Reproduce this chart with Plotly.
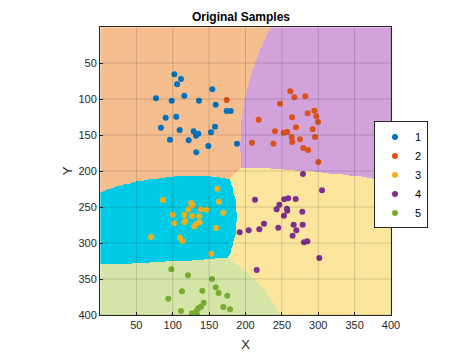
import numpy as np
import plotly.graph_objects as go

# ---- data ----
class_names = ["1", "2", "3", "4", "5"]
x1 = [102.2, 111.3, 105.9, 154.4, 115.9, 77.0, 98.5, 136.1, 159.0, 174.1, 179.6, 90.3, 104.9,
      83.8, 109.5, 128.7, 135.1, 132.0, 158.1, 152.6, 96.2, 121.9, 148.9, 188.3, 132.4]
y1 = [65.7, 72.2, 79.6, 86.6, 95.4, 99.0, 102.3, 102.3, 107.9, 116.7, 116.7, 126.0, 124.5,
      139.8, 143.0, 144.9, 148.1, 150.9, 138.4, 146.3, 156.5, 157.4, 165.3, 162.0, 174.0]
x2 = [174.1, 261.6, 267.1, 282.2, 247.4, 294.6, 285.4, 263.9, 297.3, 299.7, 218.1, 269.4, 292.3,
      240.5, 252.5, 257.5, 263.5, 295.5, 274.9, 264.3, 208.9, 238.3, 279.5, 286.0, 300.1]
y2 = [101.4, 89.4, 97.7, 96.3, 106.5, 116.2, 119.9, 125.5, 124.0, 131.9, 128.7, 139.4, 142.1,
      144.9, 146.8, 145.8, 152.8, 152.8, 156.0, 159.7, 160.7, 162.0, 168.0, 170.8, 187.5]
x3 = [161.3, 86.6, 163.6, 125.5, 127.4, 121.4, 138.8, 146.6, 169.5, 99.9, 115.9, 126.5, 136.5,
      117.3, 115.9, 137.0, 101.7, 132.9, 129.6, 159.5, 70.1, 110.0, 113.2, 153.0]
y3 = [224.5, 240.3, 242.6, 244.4, 247.7, 253.2, 253.2, 253.7, 257.9, 260.6, 260.6, 262.5, 262.9,
      269.0, 271.3, 271.3, 272.7, 273.2, 276.8, 279.2, 291.7, 292.6, 297.2, 314.8]
x4 = [279.0, 305.2, 213.1, 253.3, 258.8, 269.0, 246.5, 242.8, 257.0, 257.5, 278.1, 252.9, 225.4,
      266.2, 278.6, 245.1, 219.0, 204.4, 269.9, 192.0, 264.8, 280.4, 285.0, 301.5, 215.4]
y4 = [204.2, 226.9, 239.8, 239.4, 238.0, 238.9, 246.8, 253.2, 252.3, 255.1, 256.5, 262.0, 273.2,
      274.5, 274.5, 278.7, 281.0, 282.4, 282.4, 285.2, 289.8, 299.0, 297.7, 320.8, 337.5]
x5 = [98.0, 121.0, 154.0, 159.0, 140.7, 112.7, 163.1, 175.0, 93.9, 142.5, 138.8, 135.1, 169.5,
      178.7, 111.3, 132.9, 126.5, 133.7]
y5 = [336.6, 344.9, 350.0, 361.6, 366.2, 367.1, 369.4, 373.2, 377.3, 382.9, 388.4, 390.7, 388.9,
      392.1, 394.4, 394.0, 397.7, 400.4]

xs = [x1, x2, x3, x4, x5]
ys = [y1, y2, y3, y4, y5]

tick_vals = [50, 100, 150, 200, 250, 300, 350, 400]
point_colors = ["#0072BD", "#D95319", "#EDB120", "#7E2F8E", "#77AC30"]
region_colors = ["#F4BE8E", "#D3A2DB", "#00CBE6", "#FCE59C", "#D5E5A7"]

# ---- decision regions: Gaussian naive Bayes classifier fitted to the samples ----
gx = np.arange(1, 401, 1.0)
gy = np.arange(1, 401, 1.0)
GX, GY = np.meshgrid(gx, gy)
total = sum(len(c) for c in xs)
scores = []
for cx, cy in zip(xs, ys):
    cx = np.asarray(cx); cy = np.asarray(cy)
    mx, my = cx.mean(), cy.mean()
    sx, sy = cx.std(ddof=1), cy.std(ddof=1)
    s = (-0.5 * ((GX - mx) / sx) ** 2 - 0.5 * ((GY - my) / sy) ** 2
         - np.log(sx) - np.log(sy) + np.log(len(cx) / total))
    scores.append(s)
labels = np.argmax(np.array(scores), axis=0)

cs = []
n = len(region_colors)
for i, c in enumerate(region_colors):
    cs.append([i / n, c])
    cs.append([(i + 1) / n, c])

fig = go.Figure()
fig.add_trace(go.Heatmap(x=gx, y=gy, z=labels, zmin=-0.5, zmax=n - 0.5,
                         colorscale=cs, showscale=False, hoverinfo="skip"))
for name, cx, cy, col in zip(class_names, xs, ys, point_colors):
    fig.add_trace(go.Scatter(x=cx, y=cy, mode="markers", name=name,
                             marker=dict(color=col, size=6, line=dict(width=0))))

# grid lines drawn above the regions (as MATLAB does)
for v in tick_vals:
    fig.add_shape(type="line", xref="x", yref="y", x0=v, x1=v, y0=0, y1=400,
                  line=dict(color="rgba(0,0,0,0.15)", width=1), layer="above")
    fig.add_shape(type="line", xref="x", yref="y", x0=0, x1=400, y0=v, y1=v,
                  line=dict(color="rgba(0,0,0,0.15)", width=1), layer="above")

font_family = "Liberation Sans, Arial, Helvetica"
axis_common = dict(showgrid=False, zeroline=False, showline=True, mirror=True,
                   linecolor="#262626", linewidth=1, ticks="inside", ticklen=3,
                   tickcolor="#262626", tickvals=tick_vals, automargin=False,
                   tickfont=dict(family=font_family, size=11, color="#262626"))
fig.update_xaxes(range=[0, 400], title=dict(text="X", standoff=9,
                 font=dict(family=font_family, size=13, color="#262626")),
                 **axis_common)
fig.update_yaxes(range=[400, 0], title=dict(text="Y", standoff=2,
                 font=dict(family=font_family, size=13, color="#262626")),
                 **axis_common)

# the page body adds an 8px offset, so the figure is 466x347 with margins shifted by 8px
fig.update_layout(
    width=466, height=347,
    margin=dict(l=92, r=83, t=19, b=40, autoexpand=False),
    paper_bgcolor="white", plot_bgcolor="white",
    title=dict(text="<b>Original Samples</b>", x=0.5, xanchor="center", y=0.988,
               yanchor="top", font=dict(family=font_family, size=12, color="black")),
    legend=dict(x=0.9416, y=0.672, xanchor="left", yanchor="top",
                bgcolor="white", bordercolor="#262626", borderwidth=1,
                font=dict(family=font_family, size=11, color="black"),
                itemwidth=30, tracegroupgap=0),
    showlegend=True,
)

fig.write_html("out.html")
